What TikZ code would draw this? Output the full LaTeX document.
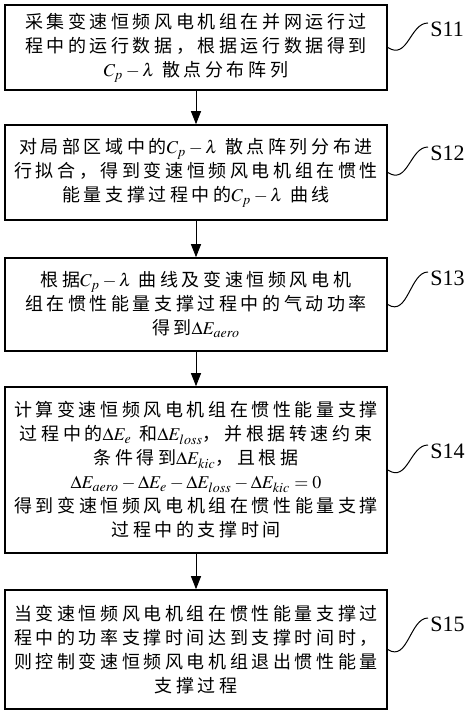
\documentclass[tikz,border=0pt]{standalone}
\usepackage{mathptmx}
\usepackage{fontspec}
\setmainfont{Liberation Serif}
\newfontfamily\cjk[LetterSpace=20]{Noto Sans CJK SC}
\usetikzlibrary{arrows.meta}

\begin{document}
\begin{tikzpicture}[x=0.5pt,y=-0.5pt,
  stepbox/.style={draw, line width=0.8pt, minimum width=191pt, inner sep=0pt,
    align=center, font=\cjk\fontsize{9}{12}\selectfont},
  flow/.style={-{Triangle[length=6.5pt,width=5pt]}, line width=0.5pt},
  tag/.style={font=\fontsize{11}{13}\selectfont, anchor=west, inner sep=0pt},
  wave/.style={line width=0.5pt}]
\useasboundingbox (0,0) rectangle (474,715);

% Steps
\node[stepbox, minimum height=42.5pt] (b1) at (196,47.5)
  {采集变速恒频风电机组在并网运行过\\
   程中的运行数据，根据运行数据得到\\
   $C_p-\lambda$ 散点分布阵列};
\node[stepbox, minimum height=47.5pt] (b2) at (196,172.5)
  {对局部区域中的$C_p-\lambda$ 散点阵列分布进\\
   行拟合，得到变速恒频风电机组在惯性\\
   能量支撑过程中的$C_p-\lambda$ 曲线};
\node[stepbox, minimum height=46.5pt] (b3) at (196,304.5)
  {根据$C_p-\lambda$ 曲线及变速恒频风电机\\
   组在惯性能量支撑过程中的气动功率\\
   得到$\Delta E_{aero}$};
\node[stepbox, minimum height=83pt] (b4) at (196,470)
  {计算变速恒频风电机组在惯性能量支撑\\
   过程中的$\Delta E_e$ 和$\Delta E_{loss}$，并根据转速约束\\
   条件得到$\Delta E_{kic}$，且根据\\
   $\Delta E_{aero}-\Delta E_e-\Delta E_{loss}-\Delta E_{kic}=0$\\
   得到变速恒频风电机组在惯性能量支撑\\
   过程中的支撑时间};
\node[stepbox, minimum height=59.5pt] (b5) at (196,649.5)
  {当变速恒频风电机组在惯性能量支撑过\\
   程中的功率支撑时间达到支撑时间时，\\
   则控制变速恒频风电机组退出惯性能量\\
   支撑过程};

% Step labels
\node[tag] (s11) at (430,29) {S11};
\node[tag] (s12) at (430,153) {S12};
\node[tag] (s13) at (430,278) {S13};
\node[tag] (s14) at (430,451) {S14};
\node[tag] (s15) at (430,624) {S15};

% Arrows
\draw[flow] (b1) -- (b2);
\draw[flow] (b2) -- (b3);
\draw[flow] (b3) -- (b4);
\draw[flow] (b4) -- (b5);

% Squiggles
\draw[wave] (b1.east) .. controls +(20,13) and +(-18,0) .. ([shift={(-1pt,3pt)}]s11.west);
\draw[wave] (b2.east) .. controls +(20,13) and +(-18,0) .. ([shift={(-1pt,3pt)}]s12.west);
\draw[wave] (b3.east) .. controls +(20,13) and +(-18,0) .. ([shift={(-1pt,3pt)}]s13.west);
\draw[wave] (b4.east) .. controls +(20,13) and +(-18,0) .. ([shift={(-1pt,3pt)}]s14.west);
\draw[wave] (b5.east) .. controls +(20,13) and +(-18,0) .. ([shift={(-1pt,3pt)}]s15.west);
\end{tikzpicture}
\end{document}
